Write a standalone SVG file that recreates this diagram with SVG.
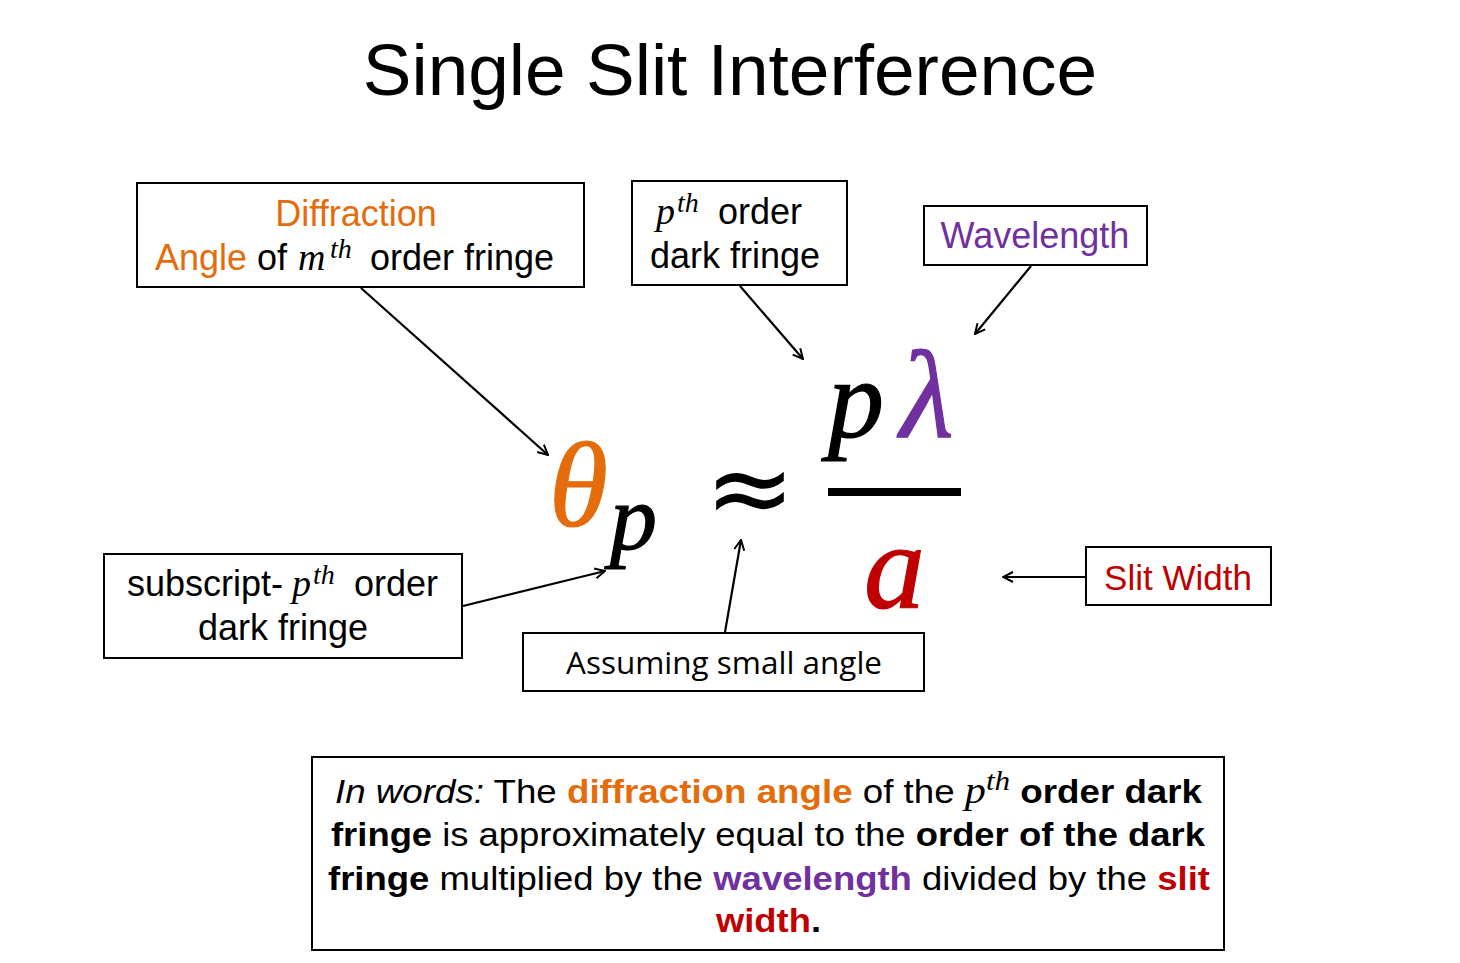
<svg xmlns="http://www.w3.org/2000/svg" width="1460" height="963" viewBox="0 0 1460 963">
<style>
.box{fill:#fff;stroke:#000;stroke-width:2}
.t{font-family:"Liberation Sans",Arial,sans-serif;font-size:36px;fill:#000}
.m{font-family:"Liberation Serif","DejaVu Serif",serif;font-style:italic}
.eq{stroke-width:1.2}
.or{fill:#E46C0A}.pu{fill:#7030A0}.rd{fill:#C00000}
.b{font-weight:bold}
.c{stroke:#000;stroke-width:2.2;fill:none}
</style>
<defs>
<marker id="ah" viewBox="0 0 12 12" refX="11" refY="6" markerWidth="12" markerHeight="12" markerUnits="userSpaceOnUse" orient="auto">
<path d="M1,1 L11,6 L1,11" fill="none" stroke="#000" stroke-width="2"/>
</marker>
</defs>
<rect width="1460" height="963" fill="#fff"/>
<text x="730" y="95" text-anchor="middle" class="t" style="font-size:73px">Single Slit Interference</text>

<g id="connectors">
<line class="c" x1="361" y1="288" x2="548" y2="455" marker-end="url(#ah)"/>
<line class="c" x1="740" y1="286" x2="803" y2="359" marker-end="url(#ah)"/>
<line class="c" x1="1031" y1="266" x2="975" y2="334" marker-end="url(#ah)"/>
<line class="c" x1="463" y1="606" x2="605" y2="571" marker-end="url(#ah)"/>
<line class="c" x1="725" y1="632" x2="741" y2="540" marker-end="url(#ah)"/>
<line class="c" x1="1086" y1="577" x2="1003" y2="577" marker-end="url(#ah)"/>
</g>

<g id="box-diffraction">
<rect class="box" x="137" y="183" width="447" height="104"/>
<text x="356" y="226" text-anchor="middle" class="t or">Diffraction</text>
<text x="155" y="270" class="t"><tspan class="or">Angle</tspan> of </text>
<text x="298" y="270" class="t m" style="font-size:38px">m</text>
<text x="330" y="258" class="t m" style="font-size:28px">th</text>
<text x="370" y="270" class="t">order fringe</text>
</g>

<g id="box-pth">
<rect class="box" x="632" y="181" width="215" height="104"/>
<text x="656" y="224" class="t m" style="font-size:38px">p</text>
<text x="677" y="212" class="t m" style="font-size:28px">th</text>
<text x="718" y="224" class="t">order</text>
<text x="735" y="268" text-anchor="middle" class="t">dark fringe</text>
</g>

<g id="box-wavelength">
<rect class="box" x="924" y="206" width="223" height="59"/>
<text x="1035" y="248" text-anchor="middle" class="t pu">Wavelength</text>
</g>

<g id="box-subscript">
<rect class="box" x="104" y="554" width="358" height="104"/>
<text x="127" y="596" class="t">subscript-</text>
<text x="292" y="596" class="t m" style="font-size:38px">p</text>
<text x="313" y="584" class="t m" style="font-size:28px">th</text>
<text x="354" y="596" class="t">order</text>
<text x="283" y="640" text-anchor="middle" class="t">dark fringe</text>
</g>

<g id="box-assuming">
<rect class="box" x="523" y="633" width="401" height="58"/>
<text x="566" y="674" class="t" style="font-family:'Open Sans','Noto Sans',sans-serif;font-size:31px" textLength="316" lengthAdjust="spacingAndGlyphs">Assuming small angle</text>
</g>

<g id="box-slit">
<rect class="box" x="1086" y="547" width="185" height="58"/>
<text x="1178" y="590" text-anchor="middle" class="t rd" style="font-size:35px">Slit Width</text>
</g>

<g id="equation">
<text x="549" y="526" class="m or eq" stroke="#E46C0A" style="font-size:120px">θ</text>
<text x="610" y="549" class="m eq" stroke="#000" style="font-size:94px">p</text>
<text x="750" y="525" text-anchor="middle" style="font-family:'DejaVu Sans',sans-serif;font-size:108px">≈</text>
<text x="828" y="437" class="m eq" stroke="#000" style="font-size:112px">p</text>
<text x="900" y="437" class="m pu eq" stroke="#7030A0" style="font-size:124px">λ</text>
<rect x="828" y="488" width="133" height="8" fill="#000"/>
<text x="864" y="608" class="m rd eq" stroke="#C00000" style="font-size:122px">a</text>
</g>

<g id="box-words">
<rect class="box" x="312" y="757" width="912" height="193"/>
<text x="335" y="803" class="t" style="font-size:33px" textLength="867" lengthAdjust="spacingAndGlyphs"><tspan font-style="italic">In words:</tspan> The <tspan class="or b">diffraction angle</tspan> of the <tspan class="m" style="font-size:38px">p</tspan><tspan class="m" dy="-13" style="font-size:28px">th</tspan><tspan dy="13" class="b"> order dark</tspan></text>
<text x="331" y="846" class="t" style="font-size:33px" textLength="874" lengthAdjust="spacingAndGlyphs"><tspan class="b">fringe</tspan> is approximately equal to the <tspan class="b">order of the dark</tspan></text>
<text x="328" y="890" class="t" style="font-size:33px" textLength="882" lengthAdjust="spacingAndGlyphs"><tspan class="b">fringe</tspan> multiplied by the <tspan class="pu b">wavelength</tspan> divided by the <tspan class="rd b">slit</tspan></text>
<text x="716" y="932" class="t b" style="font-size:33px" textLength="105" lengthAdjust="spacingAndGlyphs"><tspan class="rd">width</tspan>.</text>
</g>
</svg>
